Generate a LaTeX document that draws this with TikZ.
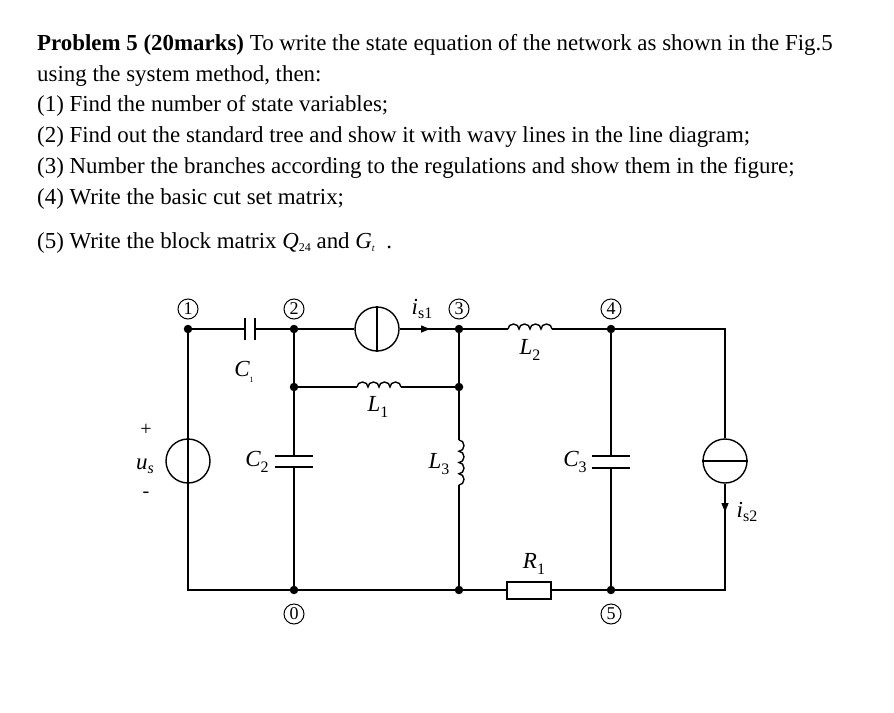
\documentclass[tikz,border=0pt]{standalone}
\usepackage{fontspec}
\setmainfont{Liberation Serif}
\usetikzlibrary{arrows.meta}
\begin{document}
\begin{tikzpicture}[x=1pt,y=-1pt,
  txt/.style={anchor=base west,inner sep=0pt,font=\fontsize{22.9}{26}\selectfont},
  lbl/.style={inner sep=0pt,font=\fontsize{23}{26}\selectfont\itshape},
  num/.style={circle,draw,line width=1pt,inner sep=0pt,minimum size=20pt,font=\fontsize{18}{18}\selectfont},
  dot/.style={circle,fill,inner sep=0pt,minimum size=8.5pt},
  w/.style={line width=1.4pt},
  src/.style={circle,draw,line width=1.4pt,minimum size=44pt,inner sep=0pt}]
\useasboundingbox (0,0) rectangle (894,712);
\node[txt] (t1) at (37,50) {\textbf{Problem 5 (20marks)} To write the state equation of the network as shown in the Fig.5};
\node[txt] (t2) at (37,81) {using the system method, then:};
\node[txt] (t3) at (37,111) {(1) Find the number of state variables;};
\node[txt] (t4) at (37,142) {(2) Find out the standard tree and show it with wavy lines in the line diagram;};
\node[txt] (t5) at (37,173) {(3) Number the branches according to the regulations and show them in the figure;};
\node[txt] (t6) at (37,204) {(4) Write the basic cut set matrix;};
\node[txt] (t7) at (37,248) {(5) Write the block matrix \textit{Q}\raisebox{-0.35ex}{\fontsize{12}{14}\selectfont 24} and \textit{G}\raisebox{-0.35ex}{\fontsize{10}{12}\selectfont\textit{t}}\ \ .};
% nodes
\node[dot] (n1) at (188,329) {};
\node[dot] (n2) at (294,329) {};
\node[dot] (n3) at (459,329) {};
\node[dot] (n4) at (611,329) {};
\node[dot] (n2b) at (294,387) {};
\node[dot] (n3b) at (459,387) {};
\node[dot] (n0) at (294,590) {};
\node[dot] (nb3) at (459,590) {};
\node[dot] (n5) at (611,590) {};
\coordinate (tr) at (725,329);
\coordinate (br) at (725,590);
\coordinate (bl) at (188,590);
\coordinate (l2a) at (508,329);
\coordinate (l2b) at (552,329);
\coordinate (l1a) at (357,387);
\coordinate (l1b) at (401,387);
\coordinate (l3a) at (459,440);
\coordinate (l3b) at (459,485);
\node[num] (l1) at (188,309) {1};
\node[num] (l2) at (294,309) {2};
\node[num] (l3) at (459,309) {3};
\node[num] (l4) at (611,309) {4};
\node[num] (l0) at (294,614) {0};
\node[num] (l5) at (611,614) {5};
% sources
\node[src] (us) at (188,461) {};
\node[src] (is1) at (377,329) {};
\node[src] (is2) at (725,461) {};
\draw[w] (us.north) -- (us.south);
\draw[w] (is1.north) -- (is1.south);
\draw[w] (is2.west) -- (is2.east);
% top wire
\draw[w] (n1) -- (245,329);
\draw[w] (245,318) -- (245,340) (255,318) -- (255,340);
\draw[w] (255,329) -- (n2) -- (is1.west);
\draw[w,-{Triangle[length=9pt,width=7pt]}] (is1.east) -- (430,329);
\draw[w] (428,329) -- (n3) -- (l2a);
\draw[w] (l2a) arc(180:360:5.5 and 5) arc(180:360:5.5 and 5) arc(180:360:5.5 and 5) arc(180:360:5.5 and 5);
\draw[w] (l2b) -- (n4);
\draw[w] (n4) -- (tr) -- (is2.north);
\draw[w,-{Triangle[length=9pt,width=7pt]}] (is2.south) -- (725,512);
\draw[w] (725,510) -- (br) -- (n5) -- (551,590);
\draw[w] (507,582) rectangle (551,599);
\draw[w] (507,590) -- (nb3) -- (n0) -- (bl) -- (us.south);
\draw[w] (us.north) -- (n1);
% middle
\draw[w] (n2) -- (n2b);
\draw[w] (n2b) -- (l1a);
\draw[w] (l1a) arc(180:360:5.5 and 5) arc(180:360:5.5 and 5) arc(180:360:5.5 and 5) arc(180:360:5.5 and 5);
\draw[w] (l1b) -- (n3b);
\draw[w] (n3) -- (n3b);
\draw[w] (n3b) -- (l3a);
\draw[w] (l3a) arc(-90:90:5 and 5.625) arc(-90:90:5 and 5.625) arc(-90:90:5 and 5.625) arc(-90:90:5 and 5.625);
\draw[w] (l3b) -- (nb3);
\draw[w] (n2b) -- (294,456);
\draw[w] (275,456) -- (313,456) (275,467) -- (313,467);
\draw[w] (294,467) -- (n0);
\draw[w] (n4) -- (611,456);
\draw[w] (592,456) -- (630,456) (592,468) -- (630,468);
\draw[w] (611,468) -- (n5);
% labels
\node[lbl] (lc1) at (244,372) {C\raisebox{-0.5ex}{\fontsize{8}{9}\selectfont\upshape 1}};
\node[lbl] (ll1) at (378,407) {L\raisebox{-0.5ex}{\upshape\fontsize{16}{18}\selectfont 1}};
\node[lbl] (ll2) at (530,350) {L\raisebox{-0.5ex}{\upshape\fontsize{16}{18}\selectfont 2}};
\node[lbl] (ll3) at (439,464) {L\raisebox{-0.5ex}{\upshape\fontsize{16}{18}\selectfont 3}};
\node[lbl] (lc2) at (257,462) {C\raisebox{-0.5ex}{\upshape\fontsize{16}{18}\selectfont 2}};
\node[lbl] (lc3) at (575,462) {C\raisebox{-0.5ex}{\upshape\fontsize{16}{18}\selectfont 3}};
\node[lbl] (lr1) at (534,564) {R\raisebox{-0.5ex}{\upshape\fontsize{16}{18}\selectfont 1}};
\node[lbl] (lis1) at (422,309) {i\raisebox{-0.4ex}{\upshape\fontsize{16}{18}\selectfont s1}};
\node[lbl] (lis2) at (747,512) {i\raisebox{-0.4ex}{\upshape\fontsize{16}{18}\selectfont s2}};
\node[lbl] (lus) at (145,466) {u\raisebox{-0.4ex}{\fontsize{16}{18}\selectfont s}};
\node[inner sep=0pt,font=\fontsize{20}{22}\selectfont] (plus) at (146,430) {+};
\node[inner sep=0pt,font=\fontsize{20}{22}\selectfont] (minus) at (146,495) {-};
\end{tikzpicture}
\end{document}
